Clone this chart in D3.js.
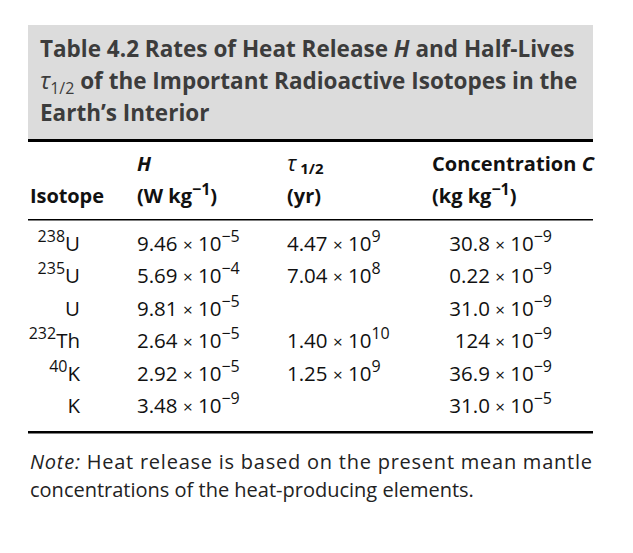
<!DOCTYPE html>
<html><head><meta charset="utf-8">
<script src="https://cdn.jsdelivr.net/npm/d3@7"></script>
<style>body{margin:0;background:#fff}text{font-family:"Open Sans","Noto Sans",sans-serif}</style>
</head><body><svg id="c" width="633" height="553"></svg>
<script>
const isotopes = [["238","U"],["235","U"],["","U"],["232","Th"],["40","K"],["","K"]];
const hMant = ["9.46","5.69","9.81","2.64","2.92","3.48"];
const hExp = ["−5","−4","−5","−5","−5","−9"];
const tMant = ["4.47","7.04","","1.40","1.25",""];
const tExp = ["9","8","","10","9",""];
const cMant = ["30.8","0.22","31.0","124","36.9","31.0"];
const cExp = ["−9","−9","−9","−9","−9","−5"];

const svg = d3.select("#c");
const fs = 20.5, sfs = 16;
svg.append("rect").attr("x",28).attr("y",25).attr("width",565).attr("height",114).attr("fill","#dcdcdc");
const title = svg.append("g").attr("fill","#3c3c3c").attr("font-size",22.5).attr("font-weight","bold");
let t1 = title.append("text").attr("x",40).attr("y",57);
t1.append("tspan").text("Table 4.2 ");
t1.append("tspan").text("Rates of Heat Release ");
t1.append("tspan").attr("font-style","italic").text("H");
t1.append("tspan").text(" and Half-Lives");
let t2 = title.append("text").attr("x",40).attr("y",89);
t2.append("tspan").attr("font-style","italic").attr("font-weight","normal").attr("font-size",24).text("τ");
t2.append("tspan").attr("font-size",16).attr("font-weight","normal").attr("dy",5).text("1/2");
t2.append("tspan").attr("dy",-5).text(" of the Important Radioactive Isotopes in the");
title.append("text").attr("x",40).attr("y",121).text("Earth’s Interior");

svg.append("rect").attr("x",28).attr("y",139).attr("width",565).attr("height",3).attr("fill","#000");
svg.append("rect").attr("x",28).attr("y",219).attr("width",565).attr("height",1.5).attr("fill","#000");
svg.append("rect").attr("x",28).attr("y",431).attr("width",565).attr("height",2.5).attr("fill","#000");

const hd = svg.append("g").attr("font-size",20).attr("font-weight","bold").attr("fill","#111");
hd.append("text").attr("x",30).attr("y",203).attr("textLength",74).text("Isotope");
hd.append("text").attr("x",137).attr("y",171).attr("font-style","italic").text("H");
let hu = hd.append("text").attr("x",137).attr("y",203);
hu.append("tspan").text("(W kg");hu.append("tspan").attr("dy",-8).attr("font-size",sfs).text("−1");hu.append("tspan").attr("dy",8).text(")");
let tt = hd.append("text").attr("x",287).attr("y",171);
tt.append("tspan").attr("font-weight","normal").attr("font-style","italic").attr("font-size",22).text("τ");
tt.append("tspan").attr("font-size",15).attr("dy",3).text(" 1/2");
hd.append("text").attr("x",287).attr("y",203).text("(yr)");
let ct = hd.append("text").attr("x",432).attr("y",171).attr("textLength",162);
ct.append("tspan").text("Concentration ");ct.append("tspan").attr("font-style","italic").text("C");
let cu = hd.append("text").attr("x",432).attr("y",203);
cu.append("tspan").text("(kg kg");cu.append("tspan").attr("dy",-8).attr("font-size",sfs).text("−1");cu.append("tspan").attr("dy",8).text(")");

const y = d3.scalePoint().domain(d3.range(isotopes.length)).range([251,413]);
const body = svg.append("g").attr("font-size",fs).attr("fill","#111");
isotopes.forEach((iso,i)=>{
  const yy = y(i);
  const t = body.append("text").attr("x",80).attr("y",yy).attr("text-anchor","end");
  if(iso[0]) t.append("tspan").attr("font-size",sfs).attr("dy",-9).text(iso[0]);
  t.append("tspan").attr("dy",iso[0]?9:0).text(iso[1]);
  const add=(x,m,e)=>{ if(!m) return;
    const s = body.append("text").attr("x",x).attr("y",yy);
    s.append("tspan").text(m+" ");
    s.append("tspan").attr("font-size",17).text("×");
    s.append("tspan").text(" 10");
    s.append("tspan").attr("font-size",sfs).attr("dy",-9).text(e);
  };
  add(137,hMant[i],hExp[i]);
  add(287,tMant[i],tExp[i]);
  const cs = body.append("text").attr("x",552).attr("y",yy).attr("text-anchor","end");
  cs.append("tspan").text(cMant[i]+" ");
  cs.append("tspan").attr("font-size",17).text("×");
  cs.append("tspan").text(" 10");
  cs.append("tspan").attr("font-size",sfs).attr("dy",-9).text(cExp[i]);
});
const note = svg.append("g").attr("font-size",20).attr("fill","#222");
let n1 = note.append("text").attr("x",30).attr("y",469).attr("textLength",562).attr("lengthAdjust","spacing");
n1.append("tspan").attr("font-style","italic").text("Note:");
n1.append("tspan").text(" Heat release is based on the present mean mantle");
note.append("text").attr("x",30).attr("y",497).text("concentrations of the heat-producing elements.");
</script></body></html>
